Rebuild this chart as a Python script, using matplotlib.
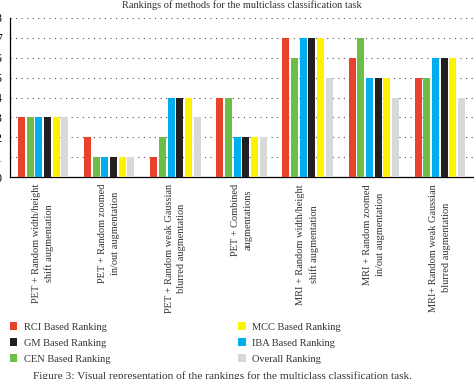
import matplotlib.pyplot as plt
import numpy as np

plt.rcParams["font.family"] = ["Liberation Serif", "DejaVu Serif"]

methods = [
    "PET + Random width/height\nshift augmentation",
    "PET + Random zoomed\nin/out augmentation",
    "PET + Random weak Gaussian\nblurred augmentation",
    "PET + Combined\naugmentations",
    "MRI + Random width/height\nshift augmentation",
    "MRI + Random zoomed\nin/out augmentation",
    "MRI+ Random weak Gaussian\nblurred augmentation",
]

rci = [3, 2, 1, 4, 7, 6, 5]
cen = [3, 1, 2, 4, 6, 7, 5]
iba = [3, 1, 4, 2, 7, 5, 6]
gm = [3, 1, 4, 2, 7, 5, 6]
mcc = [3, 1, 4, 2, 7, 5, 6]
overall = [3, 1, 3, 2, 5, 4, 4]

series = [
    ("RCI Based Ranking", rci, "#E8412C"),
    ("CEN Based Ranking", cen, "#6DBE45"),
    ("IBA Based Ranking", iba, "#00AEEF"),
    ("GM Based Ranking", gm, "#231F20"),
    ("MCC Based Ranking", mcc, "#FFF200"),
    ("Overall Ranking", overall, "#D9D9D9"),
]

fig = plt.figure(figsize=(4.74, 3.79), dpi=100)
ax = fig.add_axes([10 / 474, 1 - 177 / 379, 463 / 474, 159 / 379])

x = np.arange(len(methods))
pitch = 0.131
width = 0.106
bars = {}
for i, (name, vals, color) in enumerate(series):
    bars[name] = ax.bar(x + (i - 2.5) * pitch, vals, width, color=color, label=name, zorder=3)

ax.set_xlim(-0.5, len(methods) - 0.5)
ax.set_ylim(0, 8)
ax.set_yticks(range(9))
ax.yaxis.grid(True, linestyle=(0, (1, 4)), color="#555555", linewidth=0.8)
ax.set_axisbelow(True)
for s in ["top", "right"]:
    ax.spines[s].set_visible(False)
ax.spines["left"].set_linewidth(0.9)
ax.spines["bottom"].set_linewidth(0.9)
ax.tick_params(axis="y", length=0, pad=6, labelsize=8.5)
ax.tick_params(axis="x", length=0, pad=5)
ax.set_xticks(x)
ax.set_xticklabels(methods, rotation=90, fontsize=7.5, ha="center", va="top",
                   multialignment="center", linespacing=1.5, color="#333333")

ax.set_title("Rankings of methods for the multiclass classification task",
             fontsize=7.5, pad=7, color="#333333")

order = ["RCI Based Ranking", "GM Based Ranking", "CEN Based Ranking",
         "MCC Based Ranking", "IBA Based Ranking", "Overall Ranking"]
fig.legend([bars[n] for n in order], order, ncol=2, loc="upper left",
           bbox_to_anchor=(0.005, 1 - 315 / 379), frameon=False, fontsize=7.5,
           handlelength=0.75, handleheight=0.75, columnspacing=12.3,
           labelspacing=0.62, handletextpad=0.6, labelcolor="#333333",
           borderpad=0.2)

fig.text(0.47, 1 - 376 / 379,
         "Figure 3: Visual representation of the rankings for the multiclass classification task.",
         ha="center", va="center", fontsize=8.2, color="#333333")

fig.savefig("out.png", dpi=100)
